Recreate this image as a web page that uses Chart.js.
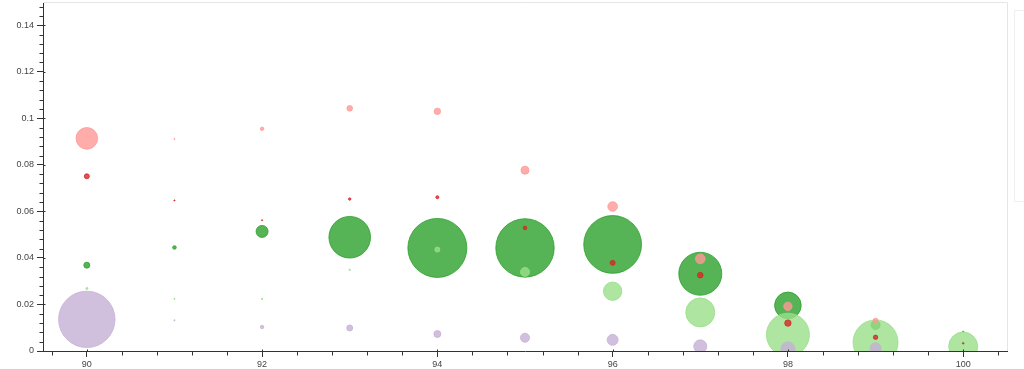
<!DOCTYPE html>
<html>
<head>
<meta charset="utf-8">
<script src="https://cdn.jsdelivr.net/npm/chart.js@4/dist/chart.umd.min.js"></script>
<style>
  html, body { margin: 0; padding: 0; background: #fff; }
  #wrap { position: relative; width: 1024px; height: 369px; }
  #legendBox {
    position: absolute; left: 1014px; top: 10px; width: 30px; height: 190px;
    border: 1px solid #efefef; background: #fff;
  }
</style>
</head>
<body>
<div id="wrap">
  <canvas id="chart" width="1024" height="369"></canvas>
  <div id="legendBox"></div>
</div>
<script>
/* ----------------------------
   Data
---------------------------- */
const xValues = [90, 91, 92, 93, 94, 95, 96, 97, 98, 99, 100];

const xTickValues = [90, 92, 94, 96, 98, 100];
const xTickLabels = ["90", "92", "94", "96", "98", "100"];
const yTickValues = [0, 0.02, 0.04, 0.06, 0.08, 0.1, 0.12, 0.14];
const yTickLabels = ["0", "0.02", "0.04", "0.06", "0.08", "0.1", "0.12", "0.14"];

// y value + marker size per series
const lightRedY = [0.0914, 0.0911, 0.0955, 0.1043, 0.1030, 0.0777, 0.0621, 0.0396, 0.0192, 0.0130, null];
const lightRedR = [11.3, 1, 2.2, 3.3, 3.7, 4.5, 5.3, 5.3, 4.7, 3, null];

const redY = [0.0751, 0.0647, 0.0562, 0.0653, 0.0661, 0.0529, 0.0379, 0.0326, 0.0120, 0.0059, 0.0033];
const redR = [3, 0.8, 1, 1.7, 2, 2.3, 3, 3.3, 3.7, 2.7, 1.3];

const greenY = [0.0369, 0.0445, 0.0514, 0.0489, 0.0443, 0.0443, 0.0458, 0.0332, 0.0196, 0.0112, 0.0083];
const greenR = [3.5, 2.3, 6.5, 21.3, 30, 29.7, 29.4, 22, 13.8, 5, 0.7];

const lightGreenY = [0.0269, 0.0224, 0.0224, 0.0349, 0.0436, 0.0340, 0.0257, 0.0166, 0.0070, 0.0037, 0.0019];
const lightGreenR = [1.5, 0.8, 1.2, 1.2, 3, 5, 9.7, 15, 22, 23, 15];

const purpleY = [0.0136, 0.0132, 0.0103, 0.0099, 0.0073, 0.0057, 0.0048, 0.0020, 0.0009, 0.0012, null];
const purpleR = [28.7, 1, 2.2, 3.5, 4, 5, 6, 7, 7.5, 6, null];

/* ----------------------------
   Helpers
---------------------------- */
function points(ys, rs){
  const out = [];
  xValues.forEach((x, i)=>{
    if(ys[i] == null) return;
    out.push({ x: x, y: ys[i], r: Math.max(0.6, rs[i] - 0.5) });
  });
  return out;
}

function series(label, ys, rs, rgb){
  return {
    label: label,
    data: points(ys, rs),
    backgroundColor: `rgba(${rgb},0.8)`,
    borderColor: `rgba(${rgb},0.8)`,
    borderWidth: 1
  };
}

// no extra room for end labels, the plot frame is fixed
function fixPadding(s){
  s.paddingTop = 0; s.paddingBottom = 0;
  s.paddingLeft = 0; s.paddingRight = 0;
}

// minor ticks + little inner part of major ticks (Bokeh style)
const minorTicks = {
  id: "minorTicks",
  afterDraw(chart){
    const ctx = chart.ctx;
    const xs = chart.scales.x, ys = chart.scales.y;
    const left = Math.round(chart.chartArea.left) + 0.5;
    const bottom = Math.round(chart.chartArea.bottom) + 0.5;
    ctx.save();
    ctx.strokeStyle = "#333";
    ctx.lineWidth = 1;
    ctx.beginPath();
    for(let i = 1; i < 38; i++){
      if(i % 5 === 0) continue;
      const py = Math.round(ys.getPixelForValue(i * 0.004)) + 0.5;
      ctx.moveTo(left - 4, py); ctx.lineTo(left, py);
    }
    for(let i = -1; i <= 26; i++){
      if(i % 5 === 0) continue;
      const px = Math.round(xs.getPixelForValue(90 + i * 0.4)) + 0.5;
      ctx.moveTo(px, bottom); ctx.lineTo(px, bottom + 4);
    }
    yTickValues.forEach(v=>{
      const py = Math.round(ys.getPixelForValue(v)) + 0.5;
      ctx.moveTo(left, py); ctx.lineTo(left + 2, py);
    });
    xTickValues.forEach(v=>{
      const px = Math.round(xs.getPixelForValue(v)) + 0.5;
      ctx.moveTo(px, bottom); ctx.lineTo(px, bottom - 2);
    });
    ctx.stroke();
    ctx.restore();
  }
};

// light frame outline around the plot area
const frame = {
  id: "frame",
  beforeDatasetsDraw(chart){
    const a = chart.chartArea, ctx = chart.ctx;
    ctx.save();
    ctx.strokeStyle = "#e5e5e5";
    ctx.lineWidth = 1;
    ctx.beginPath();
    ctx.moveTo(a.left, Math.round(a.top) + 0.5);
    ctx.lineTo(Math.round(a.right) + 0.5, Math.round(a.top) + 0.5);
    ctx.lineTo(Math.round(a.right) + 0.5, a.bottom);
    ctx.stroke();
    ctx.restore();
  }
};

/* ----------------------------
   Chart
---------------------------- */
const tickFont = { family: "'Liberation Sans', Helvetica, Arial, sans-serif", size: 9 };

new Chart(document.getElementById("chart"), {
  type: "bubble",
  data: {
    datasets: [
      series("purple", purpleY, purpleR, "197,176,213"),
      series("light red", lightRedY, lightRedR, "255,152,150"),
      series("red", redY, redR, "214,39,40"),
      series("light green", lightGreenY, lightGreenR, "152,223,138"),
      series("green", greenY, greenR, "44,160,44")
    ]
  },
  options: {
    responsive: false,
    animation: false,
    events: [],
    layout: { autoPadding: false, padding: { left: 0, top: 2, right: 17, bottom: 0 } },
    plugins: { legend: { display: false }, tooltip: { enabled: false } },
    scales: {
      x: {
        type: "linear",
        min: 89.5,
        max: 100.5,
        afterFit(s){ s.height = 18; fixPadding(s); },
        afterBuildTicks(s){ s.ticks = xTickValues.map(v=>({ value: v })); },
        grid: { drawOnChartArea: false, drawTicks: true, tickLength: 6, tickColor: "#333" },
        border: { color: "#333", width: 1 },
        ticks: {
          color: "#444",
          font: tickFont,
          padding: 2,
          maxRotation: 0,
          autoSkip: false,
          callback: (v)=> xTickLabels[xTickValues.indexOf(v)]
        }
      },
      y: {
        type: "linear",
        min: 0,
        max: 0.15,
        afterFit(s){ s.width = 43; fixPadding(s); },
        afterBuildTicks(s){ s.ticks = yTickValues.map(v=>({ value: v })); },
        grid: { drawOnChartArea: false, drawTicks: true, tickLength: 6, tickColor: "#333" },
        border: { color: "#333", width: 1 },
        ticks: {
          color: "#444",
          font: tickFont,
          padding: 3,
          autoSkip: false,
          callback: (v)=> yTickLabels[yTickValues.indexOf(v)]
        }
      }
    }
  },
  plugins: [frame, minorTicks]
});
</script>
</body>
</html>
